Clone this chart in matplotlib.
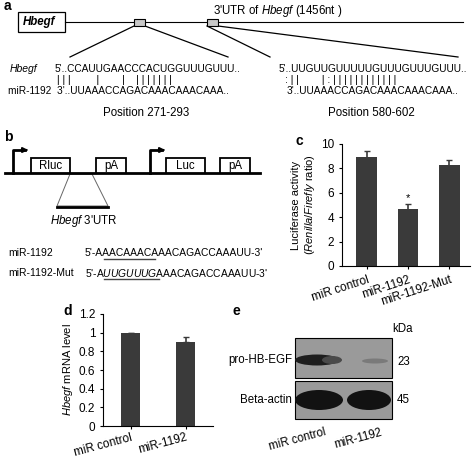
import numpy as np
import matplotlib.pyplot as plt
from matplotlib.patches import Rectangle, Polygon, Ellipse

plt.rcParams['font.family'] = ['Liberation Sans', 'DejaVu Sans']
plt.rcParams['mathtext.fontset'] = 'custom'
plt.rcParams['mathtext.it'] = 'Liberation Sans:italic'
plt.rcParams['mathtext.rm'] = 'Liberation Sans'

# panel c data
luc_labels = ['miR control', 'miR-1192', 'miR-1192-Mut']
luc_values = [8.95, 4.7, 8.3]
luc_err = [0.5, 0.4, 0.35]
luc_ticks = [0, 2, 4, 6, 8, 10]

# panel d data
mrna_labels = ['miR control', 'miR-1192']
mrna_values = [1.0, 0.9]
mrna_err = [0.0, 0.05]
mrna_ticks = [0, 0.2, 0.4, 0.6, 0.8, 1, 1.2]

bar_color = '#3a3a3a'

fig = plt.figure(figsize=(4.74, 4.61), dpi=100)
W, H = 474, 461
bg = fig.add_axes([0, 0, 1, 1])
bg.set_xlim(0, W)
bg.set_ylim(H, 0)
bg.axis('off')

def t(x, y, s, **kw):
    kw.setdefault('fontsize', 8.3)
    kw.setdefault('va', 'center')
    bg.text(x, y, s, **kw)

# ---- panel a ----
t(4, 6, 'a', fontsize=10, fontweight='bold')
bg.add_patch(Rectangle((18, 12), 47, 20, fill=False, lw=0.9))
t(23, 22, 'Hbegf', style='italic', fontweight='bold')
bg.plot([65, 463], [22, 22], 'k-', lw=0.8)
for x0 in (134, 207):
    bg.add_patch(Rectangle((x0, 19), 11, 7, fc='#c8c8c8', ec='k', lw=0.8, zorder=3))
bg.plot([134, 70], [26, 57], 'k-', lw=0.9)
bg.plot([145, 228], [26, 57], 'k-', lw=0.9)
bg.plot([207, 270], [26, 57], 'k-', lw=0.9)
bg.plot([218, 458], [26, 57], 'k-', lw=0.9)
t(213, 11, "3'UTR of $\\it{Hbegf}$ (1456nt )")
t(10, 69, 'Hbegf', style='italic', fontsize=7.5)
t(55, 69, "5'..CCAUUGAACCCACUGGUUUGUUU..", fontsize=7.3)
t(57, 80, '| | |         |        |    | | | | | | |', fontsize=7.5)
t(8, 91, "miR-1192  3'..UUAAACCAGACAAACAAACAAA..", fontsize=7.3)
t(146, 113, 'Position 271-293', ha='center')
t(279, 69, "5'..UUGUUGUUUUUGUUUGUUUGUUU..", fontsize=7.3)
t(285, 80, ': | |        | : | | | | | | | | | | | |', fontsize=7.5)
t(287, 91, "3'..UUAAACCAGACAAACAAACAAA..", fontsize=7.3)
t(371, 113, 'Position 580-602', ha='center')

# ---- panel b ----
t(4, 137, 'b', fontsize=10, fontweight='bold')
bg.plot([5, 260], [173, 173], 'k-', lw=2)
for ax0 in (13, 150):
    bg.plot([ax0, ax0, ax0 + 12], [173, 150, 150], 'k-', lw=2)
    bg.annotate('', xy=(ax0 + 18, 150), xytext=(ax0 + 10, 150),
                arrowprops=dict(arrowstyle='-|>', color='k', lw=1.5, mutation_scale=7))
for x0, w, lab in [(31, 39, 'Rluc'), (96, 30, 'pA'), (166, 39, 'Luc'), (220, 30, 'pA')]:
    bg.add_patch(Rectangle((x0, 158), w, 15, fc='white', ec='k', lw=1.3, zorder=3))
    t(x0 + w / 2, 166, lab, ha='center', zorder=4)
bg.add_patch(Polygon([(70, 174), (92, 174), (108, 206), (57, 206)], closed=True,
                     fill=False, ec='#666666', lw=0.7))
bg.plot([57, 108], [207, 207], 'k-', lw=2)
t(50, 221, "$\\it{Hbegf}$ 3'UTR")
t(8, 253, 'miR-1192', fontsize=7.5)
t(8, 273, 'miR-1192-Mut', fontsize=7.5)
t(85, 253, "5'-AAACAAACAAACAGACCAAAUU-3'", fontsize=7.4)
t(85, 273, "5'-A$\\it{UUGUUUG}$AAACAGACCAAAUU-3'", fontsize=7.4)
bg.plot([104, 155], [259, 259], color='#444444', lw=1)
bg.plot([104, 159], [279, 279], color='#444444', lw=1)

# ---- panel c ----
t(296, 141, 'c', fontsize=10, fontweight='bold')
axc = fig.add_axes([342 / W, 1 - 266 / H, 128 / W, 122 / H])
xc = np.arange(len(luc_values))
axc.bar(xc, luc_values, width=0.5, color=bar_color, yerr=luc_err,
        error_kw=dict(ecolor=bar_color, capsize=2, elinewidth=1.2))
axc.text(1, luc_values[1] + luc_err[1] + 0.2, '*', ha='center', fontsize=8)
axc.set_ylim(0, 10)
axc.set_xlim(-0.6, 2.5)
axc.set_yticks(luc_ticks)
axc.set_xticks(xc)
axc.set_xticklabels(luc_labels, rotation=18, ha='right', rotation_mode='anchor', fontsize=8)
axc.tick_params(labelsize=8.5, length=2)
axc.spines[['top', 'right']].set_visible(False)
axc.set_ylabel('Luciferase activity\n($\\it{Renilla/Firefly}$ ratio)', fontsize=8, labelpad=3)

# ---- panel d ----
t(63, 311, 'd', fontsize=10, fontweight='bold')
axd = fig.add_axes([103 / W, 1 - 426 / H, 110 / W, 112 / H])
xd = np.arange(len(mrna_values))
axd.bar(xd, mrna_values, width=0.34, color=bar_color, yerr=[[0, 0], mrna_err],
        error_kw=dict(ecolor=bar_color, capsize=2, elinewidth=1.2))
axd.set_ylim(0, 1.2)
axd.set_xlim(-0.5, 1.5)
axd.set_yticks(mrna_ticks)
axd.set_yticklabels(['0', '0.2', '0.4', '0.6', '0.8', '1', '1.2'])
axd.set_xticks(xd)
axd.set_xticklabels(mrna_labels, rotation=15, ha='right', rotation_mode='anchor', fontsize=8)
axd.tick_params(labelsize=8.5, length=2)
axd.tick_params(axis='x', pad=2)
axd.spines[['top', 'right']].set_visible(False)
axd.set_ylabel('$\\it{Hbegf}$ mRNA level', fontsize=8, labelpad=3)

# ---- panel e (western blot) ----
t(233, 311, 'e', fontsize=10, fontweight='bold')
t(392, 329, 'kDa')
for (y0, y1) in [(338, 378), (381, 419)]:
    bg.add_patch(Rectangle((295, y0), 97, y1 - y0, fc='#9a9a9a', ec='k', lw=0.8))
bg.add_patch(Ellipse((317, 360), 44, 11, fc='#1e1e1e', ec='none'))
bg.add_patch(Ellipse((332, 360), 20, 8, fc='#4a4a4a', ec='none'))
bg.add_patch(Ellipse((375, 361), 26, 5, fc='#7a7a7a', ec='none'))
bg.add_patch(Ellipse((319, 400), 48, 20, fc='#121212', ec='none'))
bg.add_patch(Ellipse((369, 400), 44, 20, fc='#121212', ec='none'))
t(292, 360, 'pro-HB-EGF', ha='right')
t(292, 400, 'Beta-actin', ha='right')
t(397, 362, '23')
t(397, 400, '45')
t(326, 432, 'miR control', rotation=15, ha='right', rotation_mode='anchor')
t(382, 432, 'miR-1192', rotation=15, ha='right', rotation_mode='anchor')

fig.savefig('out.png', dpi=100)
